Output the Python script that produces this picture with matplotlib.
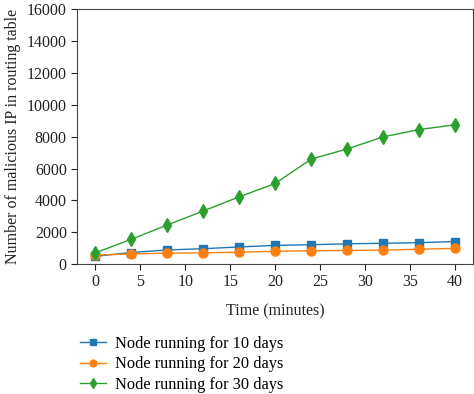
import matplotlib
matplotlib.use("Agg")
import matplotlib.pyplot as plt

time_min = [0, 4, 8, 12, 16, 20, 24, 28, 32, 36, 40]
days10 = [480, 720, 880, 960, 1070, 1170, 1210, 1270, 1300, 1340, 1410]
days20 = [560, 630, 680, 700, 740, 800, 830, 850, 870, 930, 980]
days30 = [700, 1550, 2450, 3330, 4220, 5060, 6590, 7230, 7990, 8450, 8750]
labels = ["Node running for 10 days", "Node running for 20 days", "Node running for 30 days"]
xticks = [0, 5, 10, 15, 20, 25, 30, 35, 40]
yticks = [0, 2000, 4000, 6000, 8000, 10000, 12000, 14000, 16000]

plt.rcParams['font.family'] = ['Liberation Serif', 'DejaVu Serif']
fig = plt.figure(figsize=(4.74, 3.94), dpi=100)
ax = fig.add_axes([0.163, 0.330, 0.835, 0.646])

l1, = ax.plot(time_min, days10, color='#1f77b4', lw=1.0, marker='s', ms=5.5)
l2, = ax.plot(time_min, days20, color='#ff7f0e', lw=1.0, marker='o', ms=6.5)
l3, = ax.plot(time_min, days30, color='#2ca02c', lw=1.0, marker='d', ms=7)

ax.set_xlim(-2, 42)
ax.set_ylim(0, 16000)
ax.set_xticks(xticks)
ax.set_yticks(yticks)
ax.tick_params(labelsize=11.5, colors='#222222', length=4, width=0.8)
for s in ax.spines.values():
    s.set_color('#444444')
    s.set_linewidth(0.8)
ax.set_xlabel("Time (minutes)", fontsize=11.5, color='#222222', labelpad=9)
ax.set_ylabel("Number of malicious IP in routing table", fontsize=11.5, color='#222222', labelpad=4)

fig.legend([l1, l2, l3], labels, loc='upper left', bbox_to_anchor=(0.168, 0.148),
           frameon=False, fontsize=11.8, handlelength=1.6, handletextpad=0.55,
           labelspacing=0.28, borderaxespad=0, borderpad=0, markerscale=0.75)

fig.savefig("out.png", dpi=100)
